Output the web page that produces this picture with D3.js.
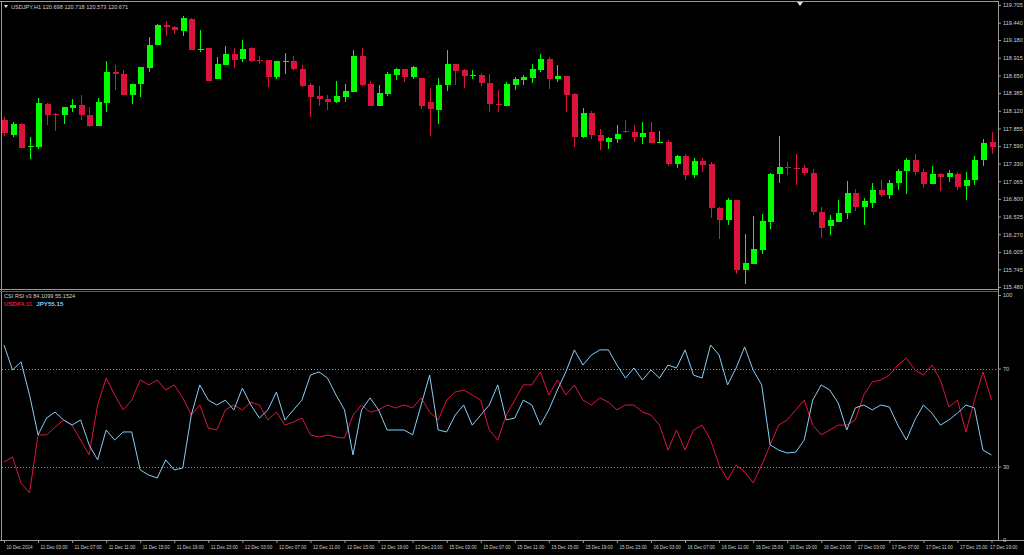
<!DOCTYPE html>
<html><head><meta charset="utf-8">
<script src="https://cdn.jsdelivr.net/npm/d3@7"></script>
<style>
html,body{margin:0;padding:0;background:#000;overflow:hidden}
svg{display:block}
</style>
</head><body>
<svg id="chart" width="1024" height="555"></svg>
<script>
const openP = [117.98,117.755,117.915,117.575,117.58,118.22,118.07,118.055,118.165,118.21,118.06,117.895,118.24,118.705,118.675,118.355,118.52,118.765,119.105,119.41,119.38,119.32,119.50,119.03,119.055,118.60,118.81,118.975,118.89,119.055,118.88,118.875,118.63,118.85,118.86,118.745,118.50,118.34,118.30,118.255,118.33,118.405,118.94,118.515,118.195,118.37,118.66,118.74,118.62,118.61,118.245,118.135,118.505,118.815,118.725,118.645,118.65,118.53,118.225,118.195,118.505,118.58,118.61,118.73,118.90,118.60,118.635,118.365,117.72,118.08,117.76,117.65,117.69,117.815,117.80,117.73,117.795,117.64,117.645,117.33,117.445,117.155,117.375,117.32,116.67,116.49,116.785,115.73,115.83,116.04,116.46,117.175,117.275,117.265,117.26,117.185,116.60,116.395,116.46,116.59,116.895,116.68,116.74,116.94,116.855,117.04,117.215,117.38,117.21,117.03,117.175,117.135,117.18,116.99,117.09,117.39,117.645];
const highP = [118.02,117.955,117.93,117.73,118.305,118.23,118.08,118.175,118.295,118.355,118.18,118.305,118.865,118.805,118.73,118.525,118.775,119.23,119.42,119.47,119.39,119.545,119.51,119.33,119.065,118.93,119.09,119.055,119.18,119.08,118.94,118.885,118.87,118.99,118.94,118.805,118.53,118.49,118.355,118.56,118.515,119.03,119.055,118.565,118.50,118.705,118.755,118.75,118.79,118.615,118.455,118.605,119.03,118.825,118.74,118.73,118.69,118.67,118.43,118.555,118.63,118.655,118.815,118.965,118.93,118.805,118.64,118.38,118.155,118.12,117.84,117.73,117.905,117.98,117.905,117.95,117.95,117.815,117.68,117.455,117.47,117.415,117.41,117.355,116.68,116.815,116.79,116.28,116.54,116.57,117.19,117.745,117.355,117.47,117.315,117.255,116.68,116.555,116.78,117.065,116.955,116.82,117.04,117.09,117.08,117.255,117.41,117.48,117.245,117.30,117.19,117.24,117.205,117.205,117.44,117.69,117.805];
const lowP = [117.74,117.73,117.565,117.405,117.555,117.905,117.815,117.915,118.105,117.98,117.88,117.89,118.10,118.43,118.355,118.225,118.325,118.705,119.105,119.245,119.265,119.245,119.03,119.005,118.57,118.59,118.80,118.755,118.855,118.855,118.82,118.48,118.59,118.67,118.73,118.48,118.02,118.19,118.13,118.23,118.255,118.40,118.49,118.19,118.19,118.34,118.58,118.55,118.60,118.14,117.745,117.92,118.42,118.505,118.455,118.59,118.49,118.105,118.105,118.19,118.43,118.505,118.53,118.705,118.44,118.545,118.105,117.58,117.715,117.69,117.53,117.545,117.64,117.78,117.655,117.625,117.63,117.63,117.29,117.27,117.09,117.115,117.205,116.515,116.20,116.415,115.67,115.53,115.82,115.98,116.355,117.04,117.155,117.005,117.155,116.555,116.22,116.265,116.455,116.495,116.615,116.405,116.665,116.83,116.795,116.93,116.88,117.16,116.97,117.02,116.92,117.055,116.94,116.79,117.005,117.295,117.48];
const closeP = [117.78,117.915,117.565,117.595,118.23,118.055,118.06,118.175,118.21,118.055,117.895,118.25,118.70,118.67,118.355,118.525,118.775,119.11,119.41,119.38,119.325,119.505,119.03,119.045,118.57,118.82,118.975,118.88,119.05,118.865,118.87,118.63,118.86,118.865,118.74,118.495,118.33,118.30,118.255,118.335,118.415,118.94,118.505,118.195,118.38,118.675,118.74,118.62,118.78,118.19,118.14,118.505,118.815,118.72,118.645,118.66,118.535,118.22,118.20,118.515,118.59,118.62,118.74,118.90,118.595,118.635,118.355,117.72,118.08,117.755,117.66,117.71,117.77,117.80,117.73,117.785,117.635,117.65,117.33,117.445,117.155,117.375,117.305,116.665,116.49,116.79,115.73,115.84,116.055,116.465,117.18,117.28,117.265,117.255,117.19,116.60,116.37,116.485,116.595,116.895,116.675,116.765,116.94,116.855,117.045,117.215,117.38,117.20,117.03,117.17,117.135,117.185,116.98,117.09,117.39,117.64,117.58];

const usdRsi = [31.8,33.9,23.3,19.2,42.9,42.9,46.1,49.0,46.9,40.8,34.7,55.1,66.1,59.2,53.1,57.1,65.3,63.3,65.3,61.2,63.3,58.0,51.0,55.1,45.7,44.9,53.1,55.1,53.1,56.3,55.1,49.0,52.2,46.9,48.2,49.8,42.9,42.0,42.9,42.0,41.6,51.0,55.1,52.2,53.1,55.1,53.9,55.1,53.9,58.0,52.2,49.0,57.1,60.4,61.2,59.2,57.1,44.9,40.8,51.0,57.1,63.3,63.3,68.6,59.2,65.3,59.2,63.3,57.1,55.1,58.0,56.3,53.1,55.1,55.1,52.2,51.0,46.9,36.7,44.9,36.7,44.9,46.9,40.8,30.6,24.5,30.6,27.8,23.3,30.6,38.8,46.9,49.0,53.1,57.1,46.9,42.9,44.9,46.9,46.9,49.0,59.2,64.5,65.3,67.3,71.4,74.3,69.4,67.3,71.4,65.3,54.3,57.1,44.1,57.1,68.6,57.1];
const jpyRsi = [79.6,69.4,72.7,59.2,42.9,49.8,52.2,49.0,46.9,49.0,38.8,32.7,44.9,40.8,44.1,44.1,28.6,26.5,25.3,32.7,28.6,29.4,51.0,63.3,57.1,55.1,57.1,53.1,62.0,55.1,49.8,53.1,60.4,49.0,53.1,57.1,67.3,68.6,66.1,59.2,53.1,34.7,53.1,58.0,53.1,44.9,44.9,44.9,42.9,55.1,67.3,44.9,44.1,51.0,55.1,46.9,51.0,55.1,63.3,49.0,49.8,57.1,55.1,46.9,53.1,61.2,68.6,77.6,71.4,75.5,77.6,77.6,71.4,66.1,70.2,65.3,69.4,66.1,71.4,70.2,77.6,67.3,66.1,79.6,75.5,63.3,70.2,78.8,69.4,63.3,38.8,36.7,35.5,35.9,40.8,57.1,63.3,61.2,55.9,44.9,53.9,55.1,53.1,55.1,54.3,46.9,40.8,49.0,55.1,51.8,46.9,49.0,51.8,55.1,53.9,36.7,34.7];

const timeLabels = ["10 Dec 2014","11 Dec 03:00","11 Dec 07:00","11 Dec 11:00","11 Dec 15:00","11 Dec 19:00","11 Dec 23:00","12 Dec 03:00","12 Dec 07:00","12 Dec 11:00","12 Dec 15:00","12 Dec 19:00","12 Dec 23:00","15 Dec 03:00","15 Dec 07:00","15 Dec 11:00","15 Dec 15:00","15 Dec 19:00","15 Dec 23:00","16 Dec 03:00","16 Dec 07:00","16 Dec 11:00","16 Dec 15:00","16 Dec 19:00","16 Dec 23:00","17 Dec 03:00","17 Dec 07:00","17 Dec 11:00","17 Dec 15:00","17 Dec 19:00"];
const priceTicks = [119.705,119.440,119.180,118.915,118.650,118.385,118.120,117.855,117.590,117.330,117.065,116.800,116.535,116.270,116.005,115.745,115.480];
const rsiTicks = [100,70,30,0];
const rsiLevels = [70,30];

const W = 1024, H = 555;
const plotR = 998;
const svg = d3.select("#chart");
const FONT = "Liberation Sans, Arial, sans-serif";
const BULL = "#00ff00", BEAR = "#dc143c", FRAME = "#9a9a9a", TXT = "#d0d0d0";
const USDC = "#e0163c", JPYC = "#87cefa";

svg.append("rect").attr("width", W).attr("height", H).attr("fill", "#000");

const n = openP.length;
const x = d3.scaleLinear().domain([0, n - 1]).range([4, 991.5]);
const yP = d3.scaleLinear().domain([115.480, 119.705]).range([287, 5]);
const yR = d3.scaleLinear().domain([0, 100]).range([540, 295]);

// candles
const candles = d3.range(n);
const g = svg.append("g").attr("shape-rendering", "crispEdges");
g.selectAll("line.wick").data(candles).join("line")
  .attr("x1", i => Math.round(x(i)) + 0.5).attr("x2", i => Math.round(x(i)) + 0.5)
  .attr("y1", i => yP(highP[i])).attr("y2", i => yP(lowP[i]))
  .attr("stroke", i => closeP[i] >= openP[i] ? BULL : BEAR).attr("stroke-width", 1);
g.selectAll("rect.body").data(candles).join("rect")
  .attr("x", i => Math.round(x(i)) - 2.5)
  .attr("width", 6)
  .attr("y", i => yP(Math.max(openP[i], closeP[i])))
  .attr("height", i => Math.max(1, Math.abs(yP(openP[i]) - yP(closeP[i]))))
  .attr("fill", i => closeP[i] >= openP[i] ? BULL : BEAR);

// RSI levels
svg.append("g").selectAll("line").data(rsiLevels).join("line")
  .attr("x1", 2).attr("x2", plotR).attr("y1", d => Math.round(yR(d)) + 0.5).attr("y2", d => Math.round(yR(d)) + 0.5)
  .attr("stroke", "#8a8a8a").attr("stroke-width", 1).attr("stroke-dasharray", "1,2");

// RSI lines
const lineGen = arr => d3.line().x((d, i) => x(i)).y(d => yR(d))(arr);
svg.append("path").attr("d", lineGen(usdRsi)).attr("fill", "none").attr("stroke", USDC).attr("stroke-width", 1);
svg.append("path").attr("d", lineGen(jpyRsi)).attr("fill", "none").attr("stroke", JPYC).attr("stroke-width", 1);

// frames
const fr = svg.append("g").attr("shape-rendering", "crispEdges").attr("stroke", FRAME).attr("fill", "none");
fr.append("line").attr("x1", 0).attr("x2", plotR).attr("y1", 1.5).attr("y2", 1.5);
fr.append("line").attr("x1", 1.5).attr("x2", 1.5).attr("y1", 1).attr("y2", 541);
fr.append("line").attr("x1", plotR + 0.5).attr("x2", plotR + 0.5).attr("y1", 1).attr("y2", 541);
fr.append("line").attr("x1", 0).attr("x2", plotR).attr("y1", 289.5).attr("y2", 289.5).attr("stroke-width", 1);
fr.append("line").attr("x1", 0).attr("x2", plotR).attr("y1", 291.5).attr("y2", 291.5).attr("stroke", "#5a5a5a");
fr.append("line").attr("x1", 0).attr("x2", W).attr("y1", 540.5).attr("y2", 540.5);

// price axis
const axP = d3.axisRight(yP).tickValues(priceTicks).tickSize(3).tickPadding(2).tickFormat(d3.format(".3f"));
const gP = svg.append("g").attr("transform", `translate(${plotR},0)`).call(axP);
gP.select(".domain").remove();
gP.selectAll("line").attr("stroke", FRAME);
gP.selectAll("text").attr("fill", TXT).style("font-family", FONT).style("font-size", "5.6px");

// rsi axis
const axR = d3.axisRight(yR).tickValues(rsiTicks).tickSize(3).tickPadding(2).tickFormat(d3.format("d"));
const gR = svg.append("g").attr("transform", `translate(${plotR},0)`).call(axR);
gR.select(".domain").remove();
gR.selectAll("line").attr("stroke", FRAME);
gR.selectAll("text").attr("fill", TXT).style("font-family", FONT).style("font-size", "5.6px");

// time axis
const tickIdx = timeLabels.map((d, k) => k * 4);
const axT = d3.axisBottom(x).tickValues(tickIdx).tickSize(3).tickPadding(1)
  .tickFormat((d, k) => timeLabels[k]);
const gT = svg.append("g").attr("transform", "translate(0,540)").call(axT);
gT.select(".domain").remove();
gT.selectAll("line").attr("stroke", FRAME);
gT.selectAll("text").attr("fill", TXT).style("font-family", FONT).style("font-size", "4.6px")
  .attr("text-anchor", "start").attr("dx", 2).attr("dy", "1.1em");
gT.selectAll(".tick").filter((d, k) => k === timeLabels.length - 1).select("text")
  .attr("x", -4);

// header texts
svg.append("path").attr("d", "M4,5 L8,5 L6,8 Z").attr("fill", "#e0e0e0");
svg.append("text").attr("x", 11).attr("y", 9).attr("fill", TXT)
  .style("font-family", FONT).style("font-size", "5.6px")
  .text("USDJPY,H1  120.698 120.718 120.573 120.671");
svg.append("path").attr("d", "M797,2 L803,2 L800,6 Z").attr("fill", "#e0e0e0");

svg.append("text").attr("x", 4).attr("y", 298).attr("fill", TXT)
  .style("font-family", FONT).style("font-size", "5.6px")
  .text("CSI RSI v3 84.1099 55.1524");
const leg = svg.append("text").attr("x", 4).attr("y", 306)
  .style("font-family", FONT).style("font-size", "6.2px").style("font-weight", "bold");
leg.append("tspan").attr("fill", USDC).text("USD84.11");
leg.append("tspan").attr("fill", JPYC).attr("dx", 4).text("JPY55.15");
</script>
</body></html>
